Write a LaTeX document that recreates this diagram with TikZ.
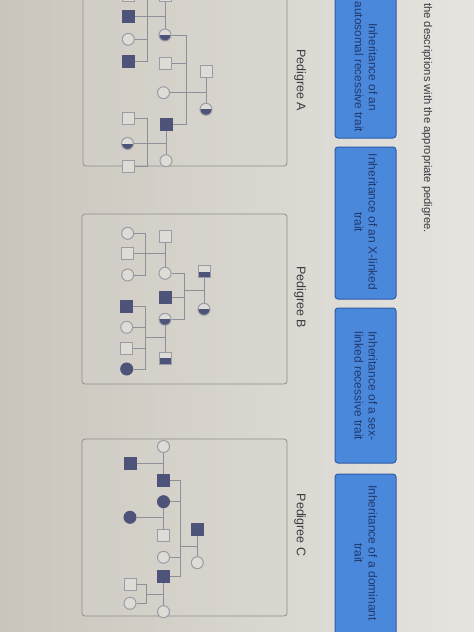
\documentclass[tikz,border=0pt]{standalone}
\usepackage{fontspec}
\setmainfont{Liberation Sans}
\definecolor{bgL}{HTML}{C9C5BC}
\definecolor{bgM}{HTML}{D8D5CE}
\definecolor{bgR}{HTML}{E6E4E0}
\definecolor{boxline}{HTML}{8E8E8E}
\definecolor{linec}{HTML}{8D909B}
\definecolor{symline}{HTML}{9A9CA6}
\definecolor{symfill}{HTML}{DEDCD6}
\definecolor{filled}{HTML}{4E5479}
\definecolor{btnfill}{HTML}{4A88DC}
\definecolor{btnline}{HTML}{2D5CA6}
\definecolor{btntext}{HTML}{22396A}
\definecolor{labtext}{HTML}{3A3A3E}
\begin{document}
\begin{tikzpicture}[x=1pt,y=-1pt,
  sym/.style={draw=symline, line width=1pt, fill=symfill, inner sep=0pt, minimum size=12pt},
  esq/.style={sym, rectangle},
  fsq/.style={sym, rectangle, fill=filled, draw=filled},
  hsq/.style={sym, rectangle, path picture={\fill[filled] (path picture bounding box.west) rectangle (path picture bounding box.south east);}},
  ecirc/.style={sym, circle},
  fcirc/.style={sym, circle, fill=filled, draw=filled},
  hcirc/.style={sym, circle, path picture={\fill[filled] (path picture bounding box.west) rectangle (path picture bounding box.south east);}},
  link/.style={draw=linec, line width=1pt},
  pbox/.style={draw=boxline, line width=0.8pt, rounded corners=3pt, inner sep=0pt, fill=bgM, fill opacity=0.35},
  btn/.style={draw=btnline, line width=1pt, fill=btnfill, rounded corners=3pt, minimum width=61pt, inner sep=0pt},
  btntxt/.style={rotate=-90, align=center, text=btntext, font=\fontsize{12}{14}\selectfont},
  lab/.style={rotate=-90, text=labtext, font=\fontsize{12.5}{14}\selectfont}
]
\useasboundingbox (0,0) rectangle (474,632);
\clip (0,0) rectangle (474,632);
\fill[left color=bgL, right color=bgR, middle color=bgM] (0,0) rectangle (474,632);

% heading
\node[rotate=-90, anchor=west, text=labtext, font=\fontsize{11.2}{13}\selectfont, inner sep=0pt] (head) at (427,3) {the descriptions with the appropriate pedigree.};

% buttons
\node[btn, minimum height=168pt] (b1btn) at (365.5,54) {};
\node[btn, minimum height=152pt] (b2btn) at (365.5,223) {};
\node[btn, minimum height=155pt] (b3btn) at (365.5,385.5) {};
\node[btn, minimum height=171pt] (b4btn) at (365.5,559.5) {};
\node[btntxt, font=\fontsize{11.8}{14}\selectfont] (t1) at (366,67) {Inheritance of an\\autosomal recessive trait};
\node[btntxt] (t2) at (366,222) {Inheritance of an X-linked\\trait};
\node[btntxt] (t3) at (366,386) {Inheritance of a sex-\\linked recessive trait};
\node[btntxt] (t4) at (366,553) {Inheritance of a dominant\\trait};

% pedigree boxes
\node[pbox, minimum width=204pt, minimum height=176pt] (boxA) at (185,78) {};
\node[pbox, minimum width=205pt, minimum height=170pt] (boxB) at (184.5,299) {};
\node[pbox, minimum width=205pt, minimum height=177pt] (boxC) at (184.5,527.5) {};
\node[lab] (labA) at (300,80) {Pedigree A};
\node[lab] (labB) at (300,297) {Pedigree B};
\node[lab] (labC) at (300,525) {Pedigree C};

% ---------- Pedigree A ----------
\coordinate (vA) at (147.3,-10);
\coordinate (vB) at (186.7,0);
\draw[link] (vA) -- (147.3,61.7);
\node[esq] (a14) at (128.3,-5) {};
\node[esq] (a15) at (165,-5) {};
\node[fsq] (a1) at (128.3,16.7) {};
\node[ecirc] (a2) at (128.3,39.3) {};
\node[fsq] (a3) at (128.3,61.7) {};
\node[hcirc] (a4) at (165,35) {};
\node[esq] (a5) at (165,63.3) {};
\node[ecirc] (a6) at (163.5,92.7) {};
\node[esq] (a7) at (206,71) {};
\node[hcirc] (a8) at (206,109.3) {};
\node[fsq] (a9) at (166,124) {};
\node[ecirc] (a10) at (166,160.7) {};
\node[esq] (a11) at (128.3,118.3) {};
\node[hcirc] (a12) at (127.5,143.5) {};
\node[esq] (a13) at (128.3,166) {};
\draw[link] (a1) -- (a1 -| a4);
\draw[link] (a2) -- (a2 -| vA);
\draw[link] (a3) -- (a3 -| vA);
\draw[link] (a15) -- (a4);
\draw[link] (a4) -- (a4 -| vB) -- (a9 -| vB) -- (a9);
\draw[link] (a5) -- (a5 -| vB);
\draw[link] (a6) -- (a6 -| a7);
\draw[link] (a7) -- (a8);
\draw[link] (a9) -- (a10);
\draw[link] (a11) -- (a11 -| vA) -- (a13 -| vA) -- (a13);
\draw[link] (a12) -- (a12 -| a9);

% ---------- Pedigree B ----------
\coordinate (vB1) at (145,0);
\coordinate (vB2) at (184,0);
\coordinate (vB3) at (145.5,0);
\node[ecirc] (b1) at (127.7,233.3) {};
\node[esq] (b2) at (127.7,253.3) {};
\node[ecirc] (b3) at (127.7,275) {};
\node[esq] (b4) at (165,236.7) {};
\node[ecirc] (b5) at (165,273.3) {};
\node[fsq] (b6) at (165,297.3) {};
\node[hcirc] (b7) at (165,319.3) {};
\node[hsq] (b8) at (204,271.7) {};
\node[hcirc] (b9) at (204,309.3) {};
\node[fsq] (b10) at (126.7,306.7) {};
\node[ecirc] (b11) at (126.7,327.3) {};
\node[esq] (b12) at (126.7,348.3) {};
\node[fcirc] (b13) at (126.7,369) {};
\node[hsq] (b14) at (165,358.3) {};
\coordinate (jB) at (184,290);
\coordinate (jB2) at (145.5,337.3);
\draw[link] (b1) -- (b1 -| vB1) -- (b3 -| vB1) -- (b3);
\draw[link] (b2) -- (b2 -| b4);
\draw[link] (b4) -- (b5);
\draw[link] (b5) -- (b5 -| vB2) -- (b7 -| vB2) -- (b7);
\draw[link] (b6) -- (b6 -| vB2);
\draw[link] (jB) -- (jB -| b8);
\draw[link] (b8) -- (b9);
\draw[link] (b10) -- (b10 -| vB3) -- (b13 -| vB3) -- (b13);
\draw[link] (b11) -- (b11 -| vB3);
\draw[link] (b12) -- (b12 -| vB3);
\draw[link] (jB2) -- (jB2 -| b7);
\draw[link] (b7) -- (b14);

% ---------- Pedigree C ----------
\coordinate (vC1) at (180,0);
\coordinate (vC2) at (146.7,0);
\node[ecirc] (c1) at (163.5,446.5) {};
\node[fsq] (c2) at (130,463.3) {};
\node[fsq] (c3) at (163.5,480.7) {};
\node[fcirc] (c4) at (163.5,501.7) {};
\node[fcirc] (c5) at (130,517.3) {};
\node[esq] (c6) at (163.5,535) {};
\node[ecirc] (c7) at (163.5,557.3) {};
\node[fsq] (c8) at (197.3,529.3) {};
\node[ecirc] (c9) at (197.3,562.7) {};
\node[fsq] (c10) at (163.5,576.7) {};
\node[ecirc] (c11) at (163.5,611.7) {};
\node[esq] (c12) at (130,584) {};
\node[ecirc] (c13) at (130,603.3) {};
\coordinate (jC) at (180,546);
\coordinate (jC2) at (146.7,594);
\draw[link] (c1) -- (c3);
\draw[link] (c2) -- (c2 -| c1);
\draw[link] (c3) -- (c3 -| vC1) -- (c10 -| vC1) -- (c10);
\draw[link] (c4) -- (c4 -| vC1);
\draw[link] (c7) -- (c7 -| vC1);
\draw[link] (c4) -- (c6);
\draw[link] (c5) -- (c5 -| c4);
\draw[link] (jC) -- (jC -| c8);
\draw[link] (c8) -- (c9);
\draw[link] (c10) -- (c11);
\draw[link] (c12) -- (c12 -| vC2) -- (c13 -| vC2) -- (c13);
\draw[link] (jC2) -- (jC2 -| c10);
\end{tikzpicture}
\end{document}
